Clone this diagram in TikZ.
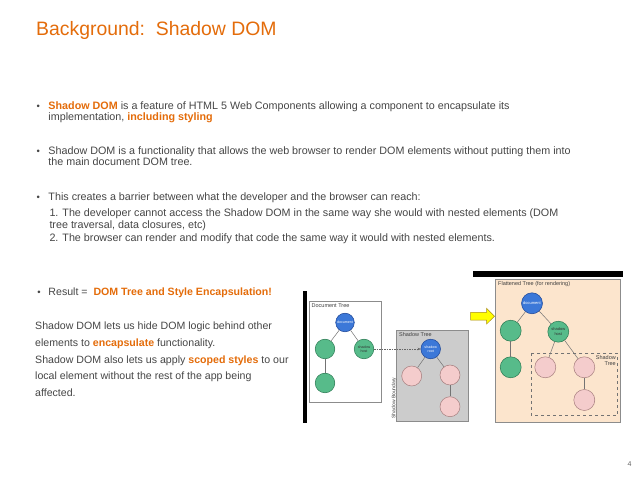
\documentclass[tikz,border=0pt]{standalone}
\usepackage{fontspec}
\setmainfont{Liberation Sans}
\usetikzlibrary{arrows.meta}
\definecolor{orng}{RGB}{228,108,10}
\definecolor{bodygray}{RGB}{70,70,70}
\definecolor{nblue}{RGB}{60,120,216}
\definecolor{nbluedark}{RGB}{30,70,150}
\definecolor{ngreen}{RGB}{87,187,138}
\definecolor{ngreendark}{RGB}{40,120,80}
\definecolor{npink}{RGB}{244,204,204}
\definecolor{npinkdark}{RGB}{165,125,125}
\definecolor{boxgray}{RGB}{204,204,204}
\definecolor{peach}{RGB}{252,229,205}
\definecolor{arrowyellow}{RGB}{255,255,0}
\definecolor{arrowedge}{RGB}{170,140,20}
\newcommand{\hlo}[1]{\textbf{\textcolor{orng}{#1}}}
\begin{document}
\begin{tikzpicture}[x=1pt,y=-1pt,
  txt/.style={anchor=base west, inner sep=0pt, text=bodygray, font=\fontsize{10.75}{12}\selectfont},
  para/.style={anchor=base west, inner sep=0pt, text=bodygray, font=\fontsize{10.6}{12}\selectfont},
  bul/.style={anchor=base west, inner sep=0pt, text=bodygray, font=\fontsize{9.5}{12}\selectfont},
  lbl/.style={inner sep=0pt, text=black!75, font=\fontsize{5.5}{6}\selectfont},
  treenode/.style={circle, inner sep=0pt, line width=0.5pt, align=center},
  bnode/.style={treenode, fill=nblue, draw=nbluedark, text=white, font=\fontsize{3.6}{4}\selectfont},
  gnode/.style={treenode, fill=ngreen, draw=ngreendark, text=black!80, font=\fontsize{3.6}{4}\selectfont},
  pnode/.style={treenode, fill=npink, draw=npinkdark},
  edge/.style={draw=black!55, line width=0.5pt},
  frame/.style={draw=black!45, line width=0.6pt}]
\useasboundingbox[fill=white] (0,0) rectangle (638,478);

% title
\node[anchor=base west, inner sep=0pt, text=orng, font=\fontsize{19.4}{22}\selectfont] (title) at (36,35.7) {Background:\ \ Shadow DOM};

% bullets
\node[bul] (b1) at (36.5,109.5) {•};
\node[txt] (l1) at (48.3,109.5) {\hlo{Shadow DOM} is a feature of HTML 5 Web Components allowing a component to encapsulate its};
\node[txt] (l2) at (48.3,121) {implementation, \hlo{including styling}};
\node[bul] (b2) at (36.5,154.5) {•};
\node[txt] (l3) at (48.3,154.5) {Shadow DOM is a functionality that allows the web browser to render DOM elements without putting them into};
\node[txt] (l4) at (48.3,165.8) {the main document DOM tree.};
\node[bul] (b3) at (36.5,201) {•};
\node[txt] (l5) at (48.3,201) {This creates a barrier between what the developer and the browser can reach:};
\node[txt] (l6) at (49.3,217) {1. The developer cannot access the Shadow DOM in the same way she would with nested elements (DOM};
\node[txt] (l7) at (49.3,228.5) {tree traversal, data closures, etc)};
\node[txt] (l8) at (49.3,241.5) {2. The browser can render and modify that code the same way it would with nested elements.};

\node[bul] (b4) at (37.2,296) {•};
\node[para] (r1) at (48.3,296) {Result =};
\node[para] (r2) at (93.3,296) {\hlo{DOM Tree and Style Encapsulation!}};

\node[para] (p1) at (35,330) {Shadow DOM lets us hide DOM logic behind other};
\node[para] (p2) at (35,346.6) {elements to \hlo{encapsulate} functionality.};
\node[para] (p3) at (35,363.3) {Shadow DOM also lets us apply \hlo{scoped styles} to our};
\node[para] (p4) at (35,380) {local element without the rest of the app being};
\node[para] (p5) at (35,396.7) {affected.};

% page number
\node[inner sep=0pt, text=black!60, font=\fontsize{7}{8}\selectfont] (pg) at (629.5,464) {4};

% ---------- diagram: left ----------
\fill[black] (303,291) rectangle (307,423);
\draw[frame, fill=white] (309,301) rectangle (381,402);
\node[lbl, anchor=north west] (dtl) at (311.5,303.5) {Document Tree};
\draw[frame, fill=boxgray] (396,330) rectangle (468,421);
\node[lbl, anchor=north west] (stl) at (399,332.5) {Shadow Tree};
\node[lbl, rotate=90, font=\fontsize{5}{6}\selectfont] (sbl) at (394,398) {Shadow Boundary};

\node[bnode, minimum size=18.6pt] (doc1) at (345,322.5) {document};
\node[gnode, minimum size=19.6pt] (g1) at (325,349) {};
\node[gnode, minimum size=19.6pt] (host1) at (364,349) {shadow\\host};
\node[gnode, minimum size=19.6pt] (g2) at (325,383) {};
\node[bnode, minimum size=19.6pt] (root) at (430.7,349) {shadow\\root};
\node[pnode, minimum size=20pt] (pk1) at (411.7,376) {};
\node[pnode, minimum size=20pt] (pk2) at (450,375) {};
\node[pnode, minimum size=20pt] (pk3) at (450,406.7) {};

\draw[edge] (doc1) -- (g1);
\draw[edge] (doc1) -- (host1);
\draw[edge] (g1) -- (g2);
\draw[edge] (root) -- (pk1);
\draw[edge] (root) -- (pk2);
\draw[edge] (pk2) -- (pk3);
\draw[draw=black!60, line width=0.5pt, dash pattern=on 1.5pt off 1pt, -{Stealth[length=3pt,width=2.6pt]}] (host1) -- (root);

% ---------- diagram: right ----------
\fill[black] (473,271) rectangle (623,277);
\draw[fill=arrowyellow, draw=arrowedge, line width=0.5pt] (470.5,312.3) -- (486.5,312.3) -- (486.5,308.3) -- (494.5,316.2) -- (486.5,324.1) -- (486.5,320.1) -- (470.5,320.1) -- cycle;
\draw[frame, fill=peach] (495,279) rectangle (620,422);
\node[lbl, anchor=north west] (ftl) at (498,281.5) {Flattened Tree (for rendering)};
\draw[draw=black!55, dashed, line width=0.5pt] (531,353) rectangle (617.7,415);
\node[lbl, anchor=north east, align=right] (stl2) at (616,355) {Shadow\\Tree};

\node[bnode, minimum size=21pt, font=\fontsize{4}{4.5}\selectfont] (doc2) at (532,303.3) {document};
\node[gnode, minimum size=21pt] (g3) at (510.7,330.7) {};
\node[gnode, minimum size=21pt, font=\fontsize{4}{4.8}\selectfont] (host2) at (558.3,331.7) {shadow\\host};
\node[gnode, minimum size=21pt] (g4) at (510.7,367.3) {};
\node[pnode, minimum size=21pt] (pk4) at (545.3,367.3) {};
\node[pnode, minimum size=21pt] (pk5) at (584.3,367.3) {};
\node[pnode, minimum size=21pt] (pk6) at (584.3,400) {};

\draw[edge] (doc2) -- (g3);
\draw[edge] (doc2) -- (host2);
\draw[edge] (g3) -- (g4);
\draw[edge] (host2) -- (pk4);
\draw[edge] (host2) -- (pk5);
\draw[edge] (pk5) -- (pk6);
\end{tikzpicture}
\end{document}
